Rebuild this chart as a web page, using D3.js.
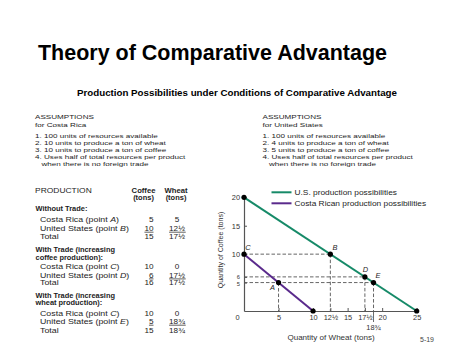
<!DOCTYPE html>
<html><head><meta charset="utf-8">
<script src="https://cdn.jsdelivr.net/npm/d3@7"></script>
<style>body{margin:0;background:#fff}svg{display:block}</style>
</head><body>
<svg id="c" width="474" height="355"></svg>
<script>
// ---- data ----
const title = "Theory of Comparative Advantage";
const subtitle = "Production Possibilities under Conditions of Comparative Advantage";
const assumpCR = ["ASSUMPTIONS","for Costa Rica","1. 100 units of resources available","2. 10 units to produce a ton of wheat","3. 10 units to produce a ton of coffee","4. Uses half of total resources per product","    when there is no foreign trade"];
const assumpUS = ["ASSUMPTIONS","for United States","1. 100 units of resources available","2. 4 units to produce a ton of wheat","3. 5 units to produce a ton of coffee","4. Uses half of total resources per product","    when there is no foreign trade"];
// table rows: [type, label, italic point, close, coffee, wheat, underline]
const tableRows = [
  ["h","Without Trade:"],
  ["r","Costa Rica (point ","A",")","5","5",false],
  ["r","United States (point ","B",")","10","12½",true],
  ["r","Total","","","15","17½",false],
  ["h","With Trade (increasing"],
  ["h","coffee production):"],
  ["r","Costa Rica (point ","C",")","10","0",false],
  ["r","United States (point ","D",")","6","17½",true],
  ["r","Total","","","16","17½",false],
  ["h","With Trade (increasing"],
  ["h","wheat production):"],
  ["r","Costa Rica (point ","C",")","10","0",false],
  ["r","United States (point ","E",")","5","18¾",true],
  ["r","Total","","","15","18¾",false]
];
const xTickVals = [5,10,12.5,15,17.5,20,25];
const xTickLabels = ["5","10","12½","15","17½","20","25"];
const yTickVals = [5,6,10,15,20];
const yTickLabels = ["5","6","10","15","20"];
const usLine = [[0,20],[25,0]];
const crLine = [[0,10],[10,0]];
const dots = [[0,20],[0,10],[12.5,10],[5,5],[10,0],[17.5,6],[18.75,5],[25,0]];
const pointLabels = [["C",0,10],["B",12.5,10],["A",5,5],["D",17.5,6],["E",18.75,5]];
const dashH = [[10,12.5],[6,17.5],[5,18.75]]; // coffee level, wheat end
const dashV = [[12.5,10],[5,5],[17.5,6],[18.75,5]]; // wheat, coffee top
const legend = [["U.S. production possibilities","#168a68"],["Costa Rican production possibilities","#5a2a8c"]];

// ---- drawing ----
const svg = d3.select("#c");
const F = "'Liberation Sans', Arial, sans-serif";
const INK = "#1c1c1c";
// text with horizontal stretch k (font is narrower than reference face)
function T(x,y,str,o={}){
  const fs=o.fs||7, k=o.k||1;
  const t = svg.append("text").attr("transform",`translate(${x},${y}) scale(${k},1)`)
    .attr("font-family",F).attr("font-size",fs).attr("fill",o.fill||INK)
    .attr("text-anchor",o.anchor||"start");
  if(o.bold) t.attr("font-weight","bold");
  if(o.italic) t.attr("font-style","italic");
  if(str!==null) t.text(str);
  return t;
}

svg.append("text").attr("x",38).attr("y",59.5).attr("font-family",F)
  .attr("font-weight","bold").attr("font-size",22).attr("textLength",349).attr("lengthAdjust","spacingAndGlyphs").text(title);
svg.append("text").attr("x",77).attr("y",95.5).attr("font-family",F)
  .attr("font-weight","bold").attr("font-size",9.5).attr("textLength",320).attr("lengthAdjust","spacingAndGlyphs").text(subtitle);

const aY = [119,126.5,137.5,144.5,151.5,158.5,165.5];
function assump(lines,x0){
  lines.forEach((d,i)=>{
    const ind = d.startsWith("    ") ? 6.5 : 0;
    T(x0+ind,aY[i],d.trim(),{fs:6.1,k:1.33});
  });
}
assump(assumpCR,35);
assump(assumpUS,262.5);

// table header
T(35,192.5,"PRODUCTION",{fs:6.6,k:1.28});
[["Coffee",143.5],["Wheat",176]].forEach(([t,x])=>{
  T(x,192.5,t,{fs:6.5,k:1.18,bold:true,anchor:"middle"});
  T(x,199.8,"(tons)",{fs:6.5,k:1.15,bold:true,anchor:"middle"});
});
const rowY = [210.8,222.2,230.8,238.5,252.3,259.6,269.2,277.5,285.2,298.2,305.4,315.8,323.8,332.5];
const KR = 1.3;
tableRows.forEach((r,i)=>{
  const y = rowY[i];
  if(r[0]==="h"){
    T(35.5,y,r[1],{fs:6.3,k:1.18,bold:true});
  } else {
    const t = T(40,y,null,{fs:6.8,k:KR});
    t.append("tspan").text(r[1]);
    if(r[2]){ t.append("tspan").attr("font-style","italic").text(r[2]); t.append("tspan").text(r[3]); }
    const c = T(153.5,y,r[4],{fs:6.8,k:1.2,anchor:"end"});
    const w = T(177,y,r[5],{fs:6.8,k:1.2,anchor:"middle"});
    if(r[6]){
      [[c,153.5],[w,177]].forEach(([el,x0])=>{
        const b = el.node().getBBox();
        svg.append("line").attr("x1",x0+b.x*1.2).attr("x2",x0+(b.x+b.width)*1.2)
          .attr("y1",y+1.4).attr("y2",y+1.4).attr("stroke",INK).attr("stroke-width",0.7);
      });
    }
  }
});

// chart
const x = d3.scaleLinear().domain([0,25]).range([244,416.7]);
const y = d3.scaleLinear().domain([0,20]).range([311,197.3]);

const dashStyle = "3.5,2";
svg.append("g").selectAll("line").data(dashH).join("line")
  .attr("x1",x(0)).attr("x2",d=>x(d[1])).attr("y1",d=>y(d[0])).attr("y2",d=>y(d[0]))
  .attr("stroke","#555").attr("stroke-width",0.9).attr("stroke-dasharray",dashStyle);
svg.append("g").selectAll("line").data(dashV).join("line")
  .attr("x1",d=>x(d[0])).attr("x2",d=>x(d[0])).attr("y1",d=>y(d[1])).attr("y2",y(0))
  .attr("stroke","#555").attr("stroke-width",0.9).attr("stroke-dasharray",dashStyle);
// solid extension below axis at 18¾
svg.append("line").attr("x1",x(18.75)).attr("x2",x(18.75)).attr("y1",y(0)).attr("y2",y(0)+11).attr("stroke","#444").attr("stroke-width",0.8);

const xAxis = d3.axisBottom(x).tickValues(xTickVals).tickFormat((d,i)=>xTickLabels[i]).tickSizeInner(-3).tickSizeOuter(0).tickPadding(3.5);
const gx = svg.append("g").attr("transform",`translate(0,${y(0)})`).call(xAxis);
const yAxis = d3.axisLeft(y).tickValues(yTickVals).tickFormat((d,i)=>yTickLabels[i]).tickSizeInner(-3).tickSizeOuter(0).tickPadding(4);
const gy = svg.append("g").attr("transform",`translate(${x(0)},0)`).call(yAxis);
[gx,gy].forEach(g=>{
  g.select(".domain").attr("stroke","#555").attr("stroke-width",1.2);
  g.selectAll(".tick line").attr("stroke","#555");
  g.selectAll(".tick text").attr("font-family",F).attr("font-size",7.4).attr("fill","#333");
});
gy.selectAll(".tick text").filter(d=>d===5||d===6).attr("font-size",5.8);
gy.selectAll(".tick text").filter(d=>d===6).attr("dy","0.22em");
gy.selectAll(".tick text").filter(d=>d===5).attr("dy","0.42em");
T(237.5,319.8,"0",{fs:7.4,anchor:"middle",fill:"#333"});
T(x(18.75),329.8,"18¾",{fs:7.4,anchor:"middle",fill:"#333"});
T(331,339.5,"Quantity of Wheat (tons)",{fs:7.2,k:1.12,anchor:"middle",fill:"#333"});
svg.append("text").attr("transform",`translate(223,250) rotate(-90) scale(1.12,1)`).attr("text-anchor","middle")
  .attr("font-family",F).attr("font-size",6.3).attr("fill","#333").text("Quantity of Coffee (tons)");

const line = d3.line().x(d=>x(d[0])).y(d=>y(d[1]));
svg.append("path").datum(crLine).attr("d",line).attr("stroke",legend[1][1]).attr("stroke-width",2).attr("fill","none");
svg.append("path").datum(usLine).attr("d",line).attr("stroke",legend[0][1]).attr("stroke-width",2).attr("fill","none");

svg.append("g").selectAll("circle").data(dots).join("circle")
  .attr("cx",d=>x(d[0])).attr("cy",d=>y(d[1])).attr("r",2.6).attr("fill","#000");

const off = {C:[4,-4],B:[4.5,-4],A:[-6,7.5],D:[0.5,-5],E:[4.5,-5]};
pointLabels.forEach(d=>{
  T(x(d[1])+off[d[0]][0],y(d[2])+off[d[0]][1],d[0],{fs:7.4,italic:true,anchor:"middle"});
});

// legend
legend.forEach(([t,col],i)=>{
  const ly = 192.3 + i*11;
  svg.append("line").attr("x1",271.5).attr("x2",291.5).attr("y1",ly).attr("y2",ly).attr("stroke",col).attr("stroke-width",2);
  T(294.5,ly+2.6,t,{fs:7.4,k:1.13});
});

T(427,341.5,"5-19",{fs:7,anchor:"middle",fill:"#444"});
</script>
</body></html>
